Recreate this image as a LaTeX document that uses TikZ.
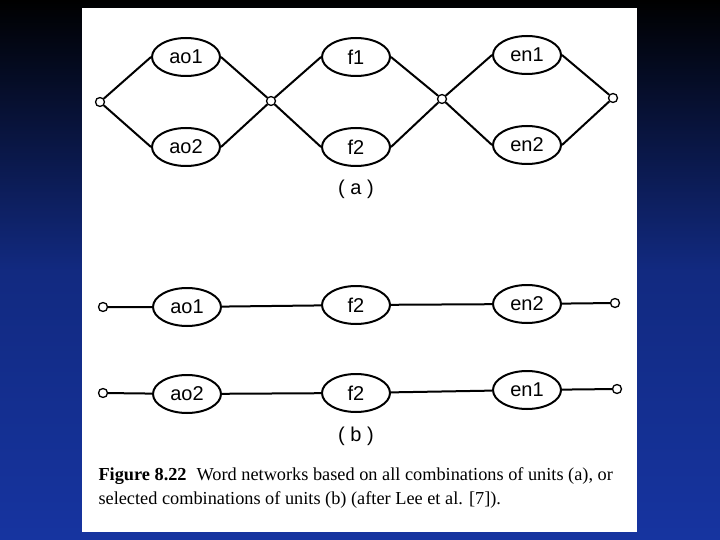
\documentclass[tikz,border=0pt]{standalone}
\usepackage{fontspec}
\usetikzlibrary{shapes.geometric}
\setmainfont{Liberation Serif}
\newfontfamily\lab{Liberation Sans}
\definecolor{bgblue}{RGB}{22,52,160}
\begin{document}
\begin{tikzpicture}[x=1pt,y=-1pt,
  unit/.style={draw,line width=2pt,ellipse,minimum width=68pt,minimum height=38pt,inner sep=0pt,font=\lab\fontsize{20}{20}\selectfont},
  jn/.style={draw,line width=1.3pt,circle,inner sep=0pt,minimum size=9pt,fill=white},
  ln/.style={line width=2pt}]
\shade[top color=black,bottom color=bgblue,middle color=bgblue!80!black] (0,0) rectangle (720,540);
\useasboundingbox (0,0) rectangle (720,540);
\fill[white] (82,8) rectangle (637,532);
% (a)
\node[unit] (ao1) at (186,57) {ao1};
\node[unit] (ao2) at (186,147) {ao2};
\node[unit] (f1) at (356,57) {f1};
\node[unit] (f2) at (356,147) {f2};
\node[unit] (en1) at (527,55) {en1};
\node[unit] (en2) at (527,145) {en2};
\node[jn] (j1) at (100,102) {};
\node[jn] (j2) at (271,101) {};
\node[jn] (j3) at (442,99) {};
\node[jn] (j4) at (613,98) {};
\draw[ln] (j1)--(ao1.west) (j1)--(ao2.west) (ao1.east)--(j2) (ao2.east)--(j2)
 (j2)--(f1.west) (j2)--(f2.west) (f1.east)--(j3) (f2.east)--(j3)
 (j3)--(en1.west) (j3)--(en2.west) (en1.east)--(j4) (en2.east)--(j4);
\node[font=\lab\fontsize{20}{20}\selectfont] (la) at (356,189) {( a )};
% (b)
\node[jn] (b1) at (103,307) {};
\node[unit] (bao1) at (187,307) {ao1};
\node[unit] (bf2) at (356,305) {f2};
\node[unit] (ben2) at (527,304) {en2};
\node[jn] (b2) at (615,303) {};
\draw[ln] (b1)--(bao1)--(bf2)--(ben2)--(b2);
\node[jn] (c1) at (103,393) {};
\node[unit] (cao2) at (187,394) {ao2};
\node[unit] (cf2) at (356,393) {f2};
\node[unit] (cen1) at (527,390) {en1};
\node[jn] (c2) at (617,389) {};
\draw[ln] (c1)--(cao2)--(cf2)--(cen1)--(c2);
\node[font=\lab\fontsize{20}{20}\selectfont] (lb) at (356,436) {( b )};
% caption
\node[anchor=west,font=\fontsize{18.3}{18.3}\selectfont] (cap1) at (95,476) {\textbf{Figure 8.22}\hspace{10pt}Word networks based on all combinations of units (a), or};
\node[anchor=west,font=\fontsize{18.3}{18.3}\selectfont] (cap2) at (95,500) {selected combinations of units (b) (after Lee et al. [7]).};
\end{tikzpicture}
\end{document}
